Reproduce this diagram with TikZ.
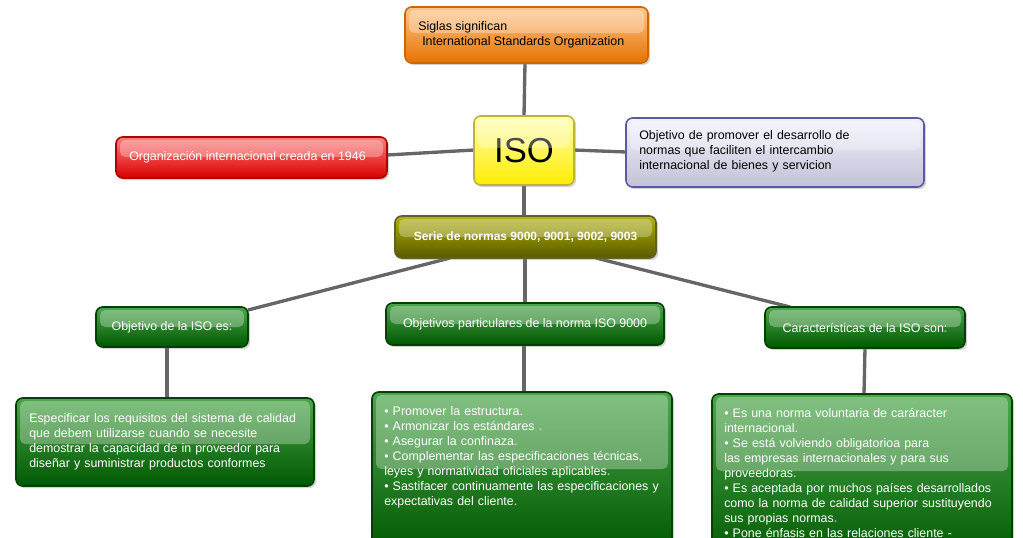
\documentclass[tikz,border=0pt]{standalone}
\usepackage{fontspec}
\setmainfont{Liberation Sans}
\usetikzlibrary{shadows}
\newcommand\myNoHyph{\hyphenpenalty=10000\relax\exhyphenpenalty=10000\relax}
\begin{document}
\begin{tikzpicture}[x=0.75pt,y=-0.75pt,
  box/.style={draw, line width=1.2pt, rounded corners=5pt, drop shadow={opacity=0.35,shadow xshift=1.5pt,shadow yshift=-1.5pt}, inner sep=4pt, font=\fontsize{9.3}{11.25}\selectfont},
  txt/.style={anchor=north west, inner sep=0pt, align=left, font=\fontsize{9.3}{11.25}\selectfont\myNoHyph},
  glossy/.style={fill=white, fill opacity=0.3, rounded corners=4pt, draw=none},
  conn/.style={draw=black!60, line width=2.5pt}]
\useasboundingbox (0,0) rectangle (1023,537);
\begin{scope}
\clip (0,0) rectangle (1023,537);
% connectors
\coordinate (o1) at (450,258); \coordinate (o2) at (525,258); \coordinate (o3) at (596,258);
\draw[conn] (525,63) -- (524,116);
\draw[conn] (387,155) -- (474,150);
\draw[conn] (574,150) -- (626,152);
\draw[conn] (524,185) -- (524,216);
\draw[conn] (o1) -- (248,310);
\draw[conn] (o2) -- (525,303);
\draw[conn] (o3) -- (790,307);
\draw[conn] (167,347) -- (167,398);
\draw[conn] (524,345) -- (524,392);
\draw[conn] (865,348) -- (864,394);
% boxes
\node[box, draw=orange!80!black, top color=orange!45, bottom color=orange!90!black, minimum width=243*0.75pt, minimum height=56*0.75pt] (sig) at (526.5,35) {};
\fill[glossy] (409,10) rectangle (644,33);
\node[txt] (sigt) at (418,21) {Siglas significan\\[0pt]\hspace*{3pt}International Standards Organization};
\node[box, draw=yellow!70!black, top color=yellow!30, bottom color=yellow!85!orange, minimum width=100*0.75pt, minimum height=69*0.75pt, font=\fontsize{26}{28}\selectfont] (iso) at (524,150.5) {ISO};
\fill[glossy] (478,119) rectangle (570,148);
\node[box, draw=red!70!black, top color=red!50, bottom color=red!85!black, minimum width=271*0.75pt, minimum height=41*0.75pt] (red) at (251.5,157.5) {};
\fill[glossy] (120,140) rectangle (383,157);
\node[txt, text=white] (redt) at (129,151) {Organización internacional creada en 1946};
\node[box, draw=blue!30!gray, top color=blue!5, bottom color=blue!20!gray!40, minimum width=298*0.75pt, minimum height=69*0.75pt] (obj) at (775,152.5) {};
\fill[glossy] (630,121) rectangle (920,150);
\node[txt, text width=255*0.75pt] (objt) at (639,130) {Objetivo de promover el desarrollo de normas que faciliten el intercambio internacional de bienes y servicion};
\node[box, draw=olive!60!black, top color=olive!60, bottom color=olive!70!black, text=white, font=\fontsize{9}{11}\bfseries\selectfont, minimum width=261*0.75pt, minimum height=42*0.75pt] (ser) at (525.5,237) {Serie de normas 9000, 9001, 9002, 9003};
\fill[glossy] (399,219) rectangle (652,237);
\tikzset{gbox/.style={box, draw=green!25!black, top color=green!50!black!70, bottom color=green!35!black, text=white}}
\node[gbox, minimum width=152*0.75pt, minimum height=40*0.75pt] (g1) at (172,327) {Objetivo de la ISO es:};
\fill[glossy] (100,310) rectangle (244,327);
\node[gbox, minimum width=278*0.75pt, minimum height=42*0.75pt] (g2) at (525,324) {Objetivos particulares de la norma ISO 9000};
\fill[glossy] (390,306) rectangle (660,324);
\node[gbox, minimum width=200*0.75pt, minimum height=41*0.75pt] (g3) at (865,327.5) {Características de la ISO son:};
\fill[glossy] (769,310) rectangle (961,327);
\node[gbox, minimum width=298*0.75pt, minimum height=88*0.75pt] (b1) at (165,442) {};
\fill[glossy] (20,401) rectangle (310,444);
\node[txt, text=white, text width=270*0.75pt] (b1t) at (29,413) {Especificar los requisitos del sistema de calidad que debem utilizarse cuando se necesite demostrar la capacidad de in proveedor para diseñar y suministrar productos conformes};
\node[gbox, minimum width=300*0.75pt, minimum height=160*0.75pt] (b2) at (522,472) {};
\fill[glossy] (376,395) rectangle (668,469);
\node[txt, text=white, text width=285*0.75pt] (b2t) at (384,406) {• Promover la estructura.\\ • Armonizar los estándares .\\ • Asegurar la confinaza.\\ • Complementar las especificaciones técnicas, leyes y normatividad oficiales aplicables.\\ • Sastifacer continuamente las especificaciones y expectativas del cliente.};
\node[gbox, minimum width=300*0.75pt, minimum height=170*0.75pt] (b3) at (862,479) {};
\fill[glossy] (716,397) rectangle (1008,471);
\node[txt, text=white, text width=270*0.75pt] (b3t) at (724,408) {• Es una norma voluntaria de caráracter internacional.\\ • Se está volviendo obligatorioa para las empresas internacionales y para sus proveedoras.\\ • Es aceptada por muchos países desarrollados como la norma de calidad superior sustituyendo sus propias normas.\\ • Pone énfasis en las relaciones cliente - proveedor.};
\end{scope}
\end{tikzpicture}
\end{document}
